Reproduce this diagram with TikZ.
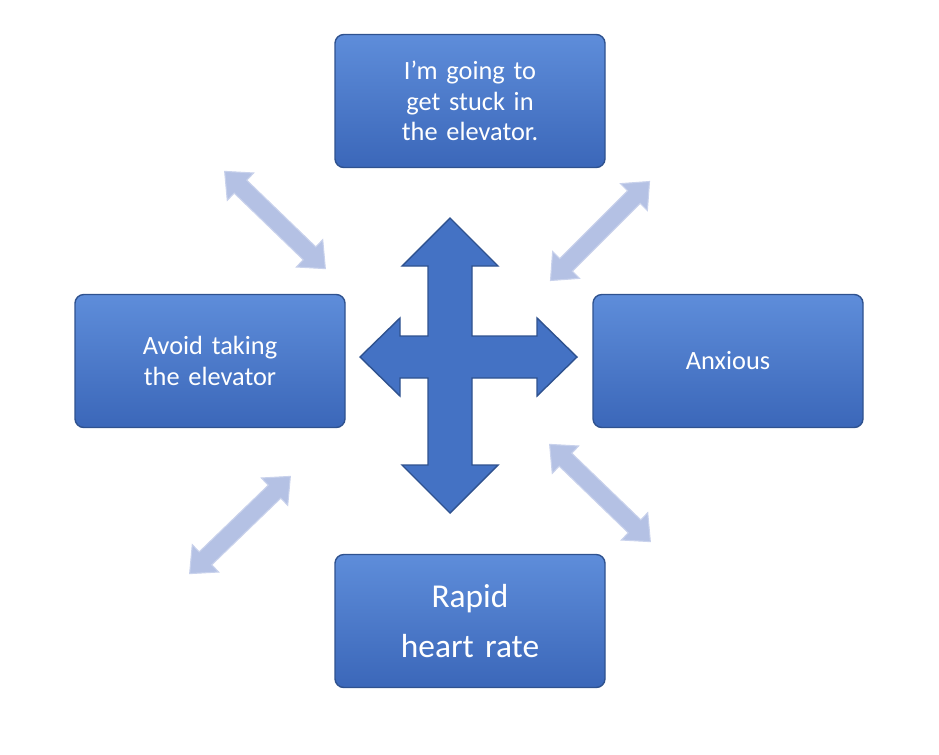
\documentclass[tikz,border=0pt]{standalone}
\usepackage{fontspec}
\setmainfont{Carlito}
\definecolor{bxtop}{HTML}{5E8DDA}
\definecolor{bxbot}{HTML}{3B67B9}
\definecolor{bxline}{HTML}{2F528F}
\definecolor{lt}{HTML}{B4C1E4}
\definecolor{ltline}{HTML}{C9D2EC}
\definecolor{cross}{HTML}{4472C4}
\begin{document}
\begin{tikzpicture}[x=0.02cm,y=-0.02cm,
 box/.style={rectangle,rounded corners=5pt,draw=bxline,line width=0.8pt,top color=bxtop,bottom color=bxbot,
   minimum width=270*0.02cm,minimum height=133*0.02cm,text=white,align=center,text width=215*0.02cm,
   font=\fontsize{15}{17.5}\selectfont},
 dbl/.pic={\draw[draw=ltline,fill=lt,line width=0.6pt] (-70,0)--(-48,-19)--(-48,-9)--(48,-9)--(48,-19)--(70,0)--(48,19)--(48,9)--(-48,9)--(-48,19)--cycle;}]
\useasboundingbox (0,0) rectangle (939,754);
\node[box] (t) at (470,101) {I'm going to get stuck in the elevator.};
\node[box] (l) at (210,361) {Avoid taking the elevator};
\node[box] (r) at (728,361) {Anxious};
\node[box,font=\fontsize{19}{28}\selectfont,text width=190*0.02cm] (b) at (470,621) {Rapid heart rate};
\pic[rotate=-44] at (275,220) {dbl};
\pic[rotate=45] at (600,231) {dbl};
\pic[rotate=-44] at (600,493) {dbl};
\pic[rotate=44] at (240,525) {dbl};
\draw[fill=cross,draw=bxline,line width=0.8pt] (450,218)--(498,266)--(472,266)--(472,336)--(537,336)--(537,318)--(577,357)--(537,396)--(537,378)--(472,378)--(472,465)--(498,465)--(450,513)--(402,465)--(428,465)--(428,378)--(400,378)--(400,396)--(360,357)--(400,318)--(400,336)--(428,336)--(428,266)--(402,266)--cycle;
\end{tikzpicture}
\end{document}
